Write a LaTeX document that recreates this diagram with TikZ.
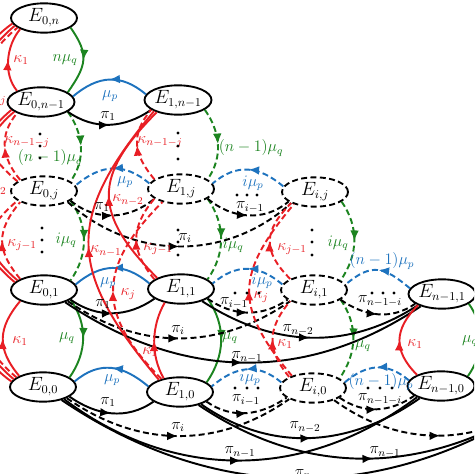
\documentclass[tikz,border=0pt]{standalone}
\usetikzlibrary{arrows.meta,decorations.markings,shapes.geometric}
\definecolor{kred}{RGB}{232,30,36}
\definecolor{qgreen}{RGB}{28,132,32}
\definecolor{pblue}{RGB}{30,115,190}
\begin{document}
\begin{tikzpicture}[x=0.75pt,y=0.75pt,
  st/.style={ellipse,draw,fill=white,line width=1.4pt,minimum width=49.5pt,minimum height=22pt,inner sep=0pt,font=\fontsize{13.5}{15}\selectfont},
  dst/.style={st,dash pattern=on 4.5pt off 2.5pt},
  dsh/.style={dash pattern=on 4.5pt off 2.5pt},
  edg/.style={line width=1.45pt},
  midarr/.style={postaction={decorate},decoration={markings,mark=at position 0.5 with {\arrow{Latex[length=8pt,width=6.5pt]}}}},
  gq/.style={edg,midarr,color=qgreen,out=-55,in=55},
  bp/.style={edg,midarr,color=pblue,out=140,in=40,looseness=1.15},
  kp/.style={edg,midarr,color=black,out=-35,in=-145},
  rk/.style={edg,midarr,color=kred},
  lab/.style={font=\fontsize{11.5}{13}\selectfont,inner sep=0pt},
]
\useasboundingbox (0,0) rectangle (474,-474);
\clip (0,0) rectangle (474,-474);

% nodes
\node[st]  (E0n)  at (44,-18)   {$E_{0,n}$};
\node[st]  (E0n1) at (41,-102)  {$E_{0,n-1}$};
\node[st]  (E1n1) at (178,-100) {$E_{1,n-1}$};
\node[dst] (E0j)  at (44,-191)  {$E_{0,j}$};
\node[dst] (E1j)  at (181,-189) {$E_{1,j}$};
\node[dst] (Eij)  at (315,-192) {$E_{i,j}$};
\node[st]  (E01)  at (44,-290)  {$E_{0,1}$};
\node[st]  (E11)  at (181,-289) {$E_{1,1}$};
\node[dst] (Ei1)  at (314,-290) {$E_{i,1}$};
\node[st]  (En11) at (442,-294) {$E_{n-1,1}$};
\node[st]  (E00)  at (43,-387)  {$E_{0,0}$};
\node[st]  (E10)  at (180,-392) {$E_{1,0}$};
\node[dst] (Ei0)  at (313,-388) {$E_{i,0}$};
\node[st]  (En10) at (441,-386) {$E_{n-1,0}$};
\coordinate (En0) at (546,-398);

% green
\draw[gq,looseness=1.3] (E0n.-20) to (E0n1.20);
\draw[gq,dsh] (E0n1.-20) to (E0j.20);
\draw[gq,dsh] (E1n1.-20) to (E1j.20);
\draw[gq,dsh] (E0j.-20) to (E01.20);
\draw[gq,dsh] (E1j.-20) to (E11.20);
\draw[gq,dsh] (Eij.-20) to (Ei1.20);
\draw[gq] (E01.-20) to (E00.20);
\draw[gq] (E11.-20) to (E10.20);
\draw[gq,dsh] (Ei1.-20) to (Ei0.20);
\draw[gq] (En11.-20) to (En10.20);

% blue
\draw[bp] (E1n1.170) to (E0n1.10);
\draw[bp,dsh] (E1j.170) to (E0j.10);
\draw[bp,dsh] (Eij.170) to (E1j.10);
\draw[bp] (E11.170) to (E01.10);
\draw[bp,dsh] (Ei1.170) to (E11.10);
\draw[bp,dsh,looseness=1.35] (En11.170) to (Ei1.10);
\draw[bp] (E10.170) to (E00.10);
\draw[bp,dsh] (Ei0.170) to (E10.10);
\draw[bp,dsh] (En10.170) to (Ei0.10);

% black
\draw[kp] (E0n1.-20) to (E1n1.-160);
\draw[kp,dsh,out=-40,in=-140] (E0j.-20) to (E1j.-160);
\draw[kp,dsh,out=-40,in=-140] (E1j.-20) to (Eij.-160);
\draw[kp,dsh,out=-42,in=-138] (E0j.-25) to (Eij.-155);
\draw[kp] (E01.-20) to (E11.-160);
\draw[kp,dsh] (E11.-20) to (Ei1.-160);
\draw[kp,dsh] (Ei1.-20) to (En11.-160);
\draw[kp,dsh] (E01.-25) to (Ei1.-155);
\draw[kp,out=-33,in=-147] (E11.-30) to (En11.-155);
\draw[kp,out=-34,in=-146] (E01.-30) to (En11.-150);
\draw[kp] (E00.-20) to (E10.-160);
\draw[kp,dsh] (E10.-20) to (Ei0.-160);
\draw[kp,dsh] (Ei0.-20) to (En10.-160);
\draw[kp,dsh] (E00.-25) to (Ei0.-155);
\draw[kp] (E10.-30) to (En10.-150);
\draw[kp,out=-37,in=-143] (E00.-30) to (En10.-155);
\draw[kp,out=-34,in=-146] (E10.-35) to (En0);
\draw[kp,dsh,out=-36,in=-144] (Ei0.-30) to (En0);
\draw[kp,out=-34,in=-146] (E00.-35) to (En0);

% red column 0
\draw[rk,out=130,in=-130,looseness=0.9] (E0n1.155) to (E0n.-155);
\draw[rk,dsh,out=130,in=-130,looseness=1.1] (E0j.155) to (E0n1.-155);
\draw[rk,dsh,out=130,in=-130,looseness=1.25] (E01.155) to (E0j.-155);
\draw[rk,out=130,in=-130,looseness=1.2] (E00.155) to (E01.-155);
\draw[rk,dsh,out=140,in=-140,looseness=1.23] (E0j.160) to (E0n.-160);
\draw[rk,out=140,in=-140,looseness=1.08] (E01.160) to (E0n1.-160);
\draw[rk,out=140,in=-140,looseness=1.03] (E01.165) to (E0n.-165);
\draw[rk,out=140,in=-140,looseness=1.0] (E00.165) to (E0n1.-165);
\draw[rk,dsh,out=140,in=-140,looseness=1.13] (E00.160) to (E0j.-160);
\draw[rk,out=145,in=-145,looseness=0.83] (E00.170) to (E0n.-170);
% red column 1
\draw[rk,dsh,out=130,in=-130,looseness=1.2] (E1j.160) to (E1n1.-160);
\draw[rk,out=135,in=-135,looseness=1.4] (E11.155) to (E1n1.-150);
\draw[rk,out=130,in=-130,looseness=1.34] (E10.150) to (E1n1.-155);
\draw[rk,dsh,out=130,in=-130,looseness=1.2] (E11.160) to (E1j.-160);
\draw[rk,dsh,out=135,in=-135,looseness=1.33] (E10.145) to (E1j.-145);
\draw[rk,out=120,in=-120,looseness=0.9] (E10.140) to (E11.-140);
% red column i
\draw[rk,dsh,out=135,in=-135,looseness=1.33] (Ei1.155) to (Eij.-155);
\draw[rk,dsh,out=130,in=-130,looseness=1.35] (Ei0.150) to (Eij.-150);
\draw[rk,dsh,out=130,in=-130,looseness=1.2] (Ei0.155) to (Ei1.-155);
% red column n-1
\draw[rk,out=135,in=-135,looseness=1.25] (En10.155) to (En11.-155);

% labels green
\node[lab,qgreen] (lq1) at (65,-60) {$n\mu_q$};
\node[lab,qgreen] (lq2) at (50,-158) {$(n-1)\mu_q$};
\node[lab,qgreen] (lq3) at (251,-148) {$(n-1)\mu_q$};
\node[lab,qgreen] (lq4) at (66,-240) {$i\mu_q$};
\node[lab,qgreen] (lq5) at (233,-245) {$i\mu_q$};
\node[lab,qgreen] (lq6) at (338,-243) {$i\mu_q$};
\node[lab,qgreen] (lq7) at (67,-338) {$\mu_q$};
\node[lab,qgreen] (lq8) at (230,-338) {$\mu_q$};
\node[lab,qgreen] (lq9) at (363,-346) {$\mu_q$};
\node[lab,qgreen] (lq10) at (470,-341) {$\mu_q$};
% labels blue
\node[lab,pblue] (lp1) at (110,-96) {$\mu_p$};
\node[lab,pblue] (lp2) at (125,-182) {$\mu_p$};
\node[lab,pblue] (lp3) at (253,-183) {$i\mu_p$};
\node[lab,pblue] (lp4) at (108,-283) {$\mu_p$};
\node[lab,pblue] (lp5) at (262,-281) {$i\mu_p$};
\node[lab,pblue] (lp6) at (382,-261) {$(n-1)\mu_p$};
\node[lab,pblue] (lp7) at (112,-380) {$\mu_p$};
\node[lab,pblue] (lp8) at (250,-378) {$i\mu_p$};
\node[lab,pblue] (lp9) at (381,-382) {$(n-1)\mu_p$};
% labels black
\node[lab] (lr1) at (108,-116) {$\pi_1$};
\node[lab] (lr2) at (102,-207) {$\pi_1$};
\node[lab] (lr3) at (250,-207) {$\pi_{i-1}$};
\node[lab] (lr4) at (185,-238) {$\pi_i$};
\node[lab] (lr5) at (103,-304) {$\pi_1$};
\node[lab] (lr6) at (234,-303) {$\pi_{i-1}$};
\node[lab] (lr7) at (380,-301) {$\pi_{n-1-i}$};
\node[lab] (lr8) at (178,-330) {$\pi_i$};
\node[lab] (lr9) at (298,-330) {$\pi_{n-2}$};
\node[lab] (lr10) at (247,-357) {$\pi_{n-1}$};
\node[lab] (lr11) at (108,-402) {$\pi_1$};
\node[lab] (lr12) at (246,-400) {$\pi_{i-1}$};
\node[lab] (lr13) at (380,-399) {$\pi_{n-1-i}$};
\node[lab] (lr14) at (178,-427) {$\pi_i$};
\node[lab] (lr15) at (305,-427) {$\pi_{n-2}$};
\node[lab] (lr16) at (240,-452) {$\pi_{n-1}$};
\node[lab] (lr17) at (385,-452) {$\pi_{n-1}$};
\node[lab] (lr18) at (303,-474) {$\pi_n$};
% labels red
\node[lab,kred] (lk1) at (21,-60) {$\kappa_1$};
\node[lab,kred] (lk2) at (27,-142) {$\kappa_{n-1-j}$};
\node[lab,kred] (lk3) at (22,-245) {$\kappa_{j-1}$};
\node[lab,kred] (lk4) at (20,-341) {$\kappa_1$};
\node[lab,kred] (lk5) at (-9,-100) {$\kappa_{n-j}$};
\node[lab,kred] (lk6) at (-9,-190) {$\kappa_{n-2}$};
\node[lab,kred] (lk7) at (160,-142) {$\kappa_{n-1-j}$};
\node[lab,kred] (lk8) at (128,-200) {$\kappa_{n-2}$};
\node[lab,kred] (lk9) at (106,-251) {$\kappa_{n-1}$};
\node[lab,kred] (lk10) at (158,-249) {$\kappa_{j-1}$};
\node[lab,kred] (lk11) at (128,-294) {$\kappa_j$};
\node[lab,kred] (lk12) at (150,-352) {$\kappa_1$};
\node[lab,kred] (lk13) at (292,-249) {$\kappa_{j-1}$};
\node[lab,kred] (lk14) at (261,-297) {$\kappa_j$};
\node[lab,kred] (lk15) at (285,-344) {$\kappa_1$};
\node[lab,kred] (lk16) at (415,-344) {$\kappa_1$};

% ellipsis dots
\foreach \p in {(40,-134),(40,-146),(40,-158),(178,-133),(178,-146),(178,-159),
  (42,-228),(42,-240),(42,-252),(178,-230),(178,-242),(178,-255),
  (312,-230),(312,-242),(312,-255),
  (237,-195),(247,-195),(257,-195),(235,-293),(247,-293),(259,-293),
  (372,-293),(383,-293),(394,-293),(235,-388),(247,-388),(258,-388),
  (368,-388),(380,-388),(392,-388)}
  \fill \p circle (1.2pt);
\end{tikzpicture}
\end{document}
